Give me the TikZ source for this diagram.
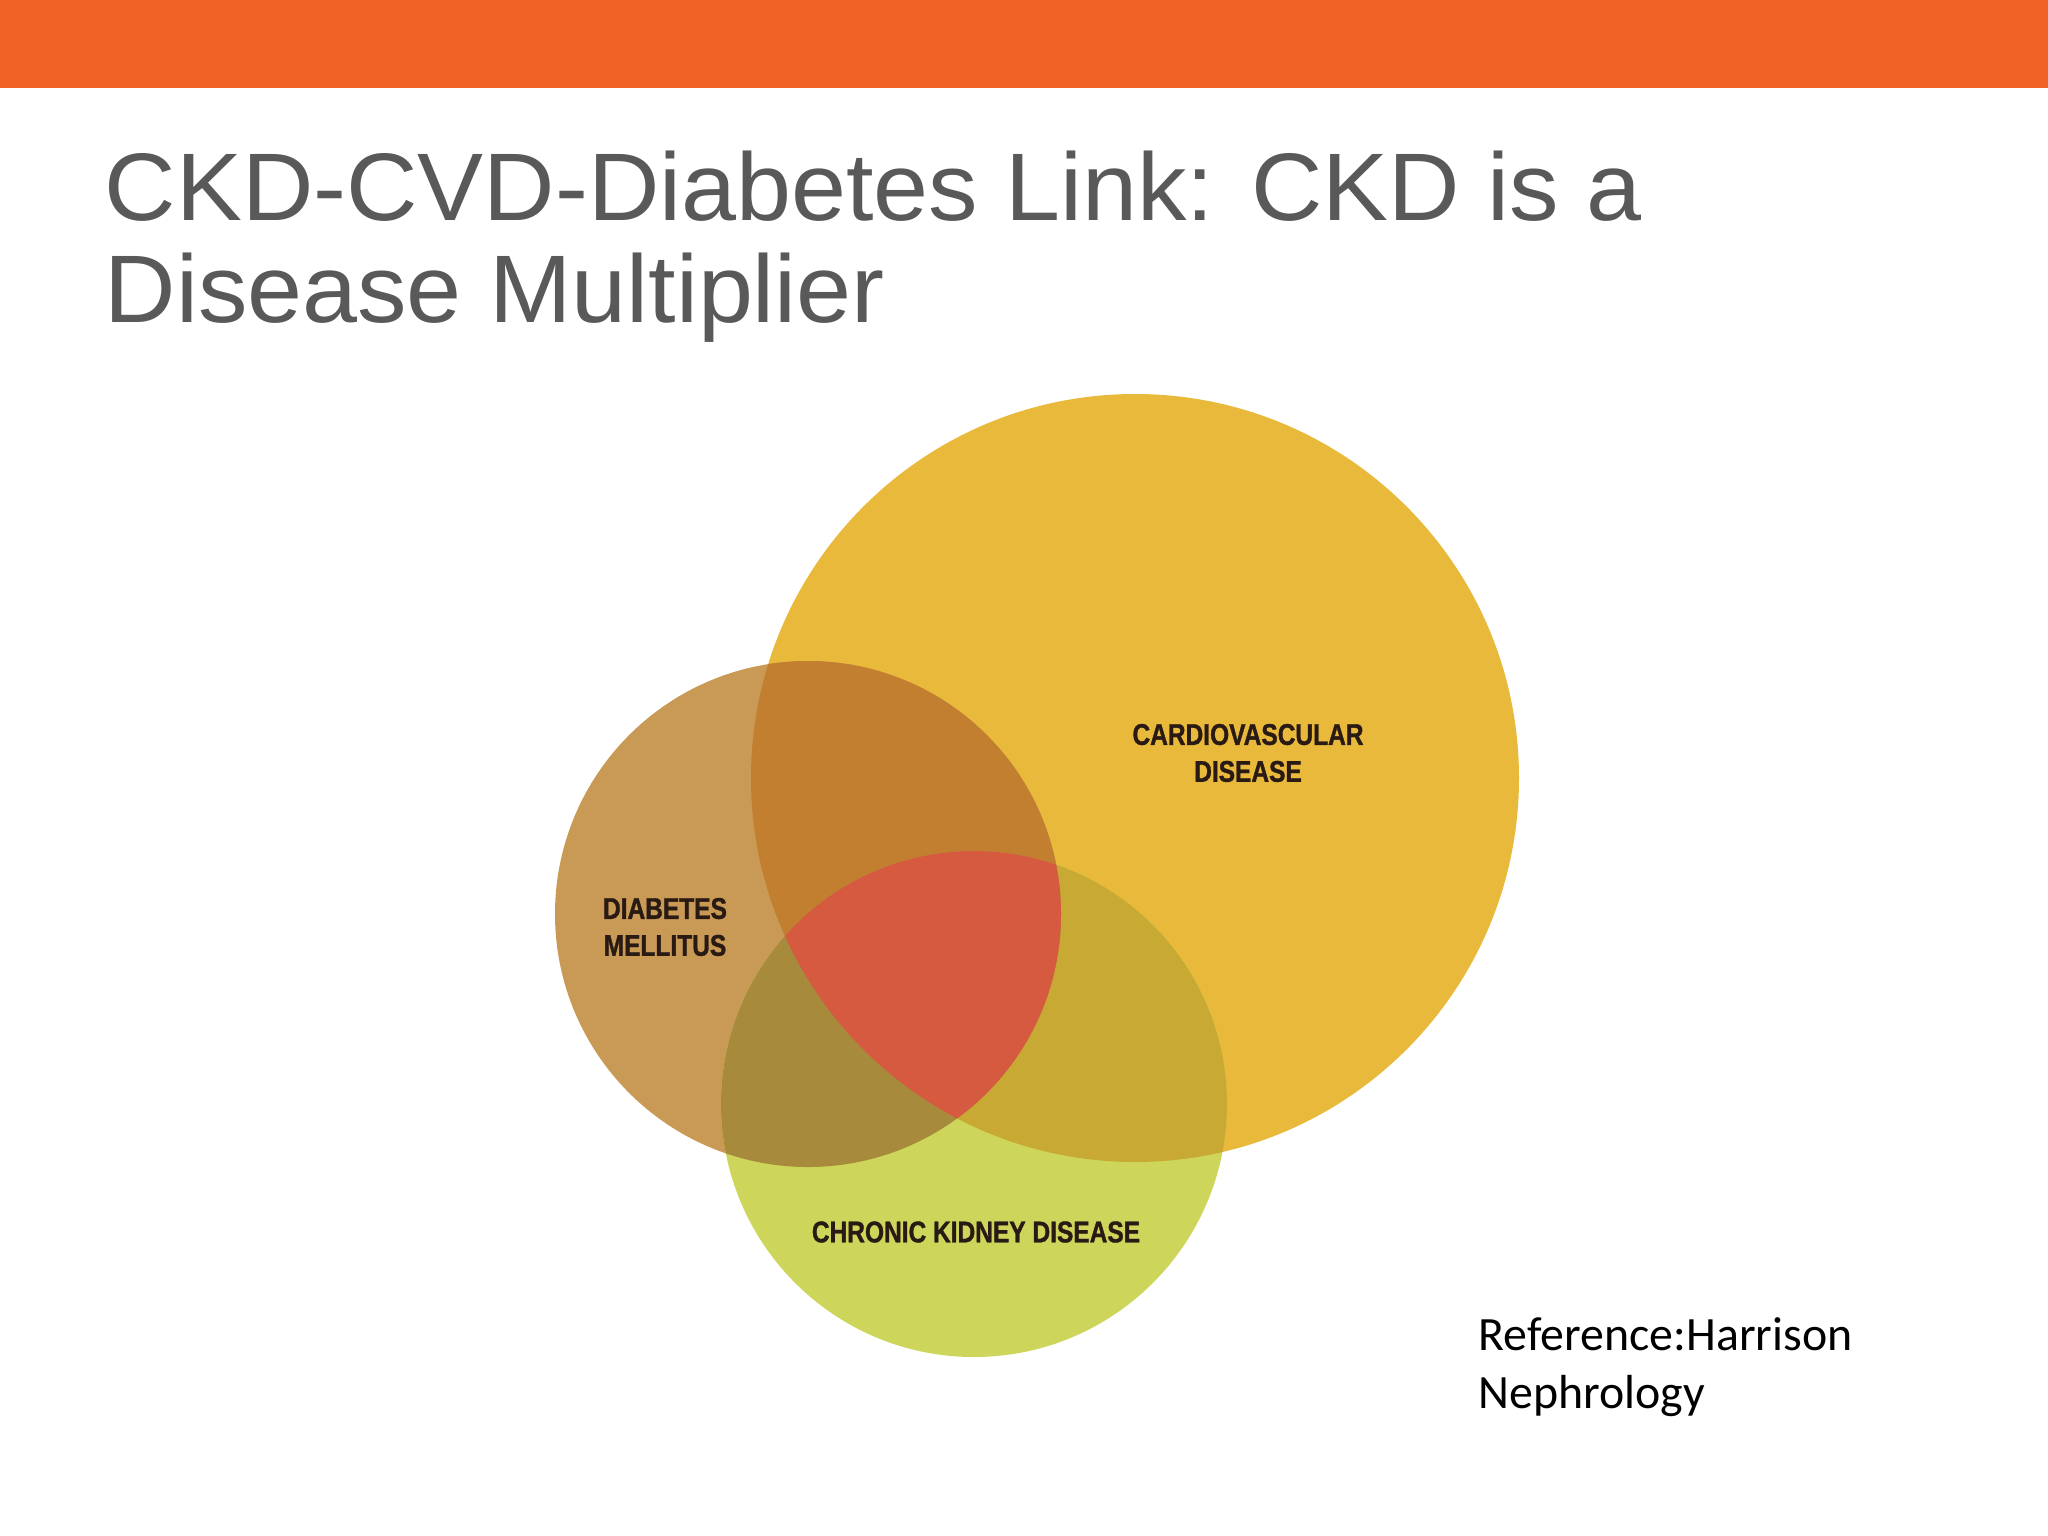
\documentclass[tikz,border=0pt]{standalone}
\usepackage{fontspec}
\setmainfont{Liberation Sans}
\newfontfamily\titlefont[FakeStretch=1.03]{Liberation Sans}
\newfontfamily\labfont[FakeStretch=0.82, BoldFeatures={FakeBold=1.2}]{Liberation Sans}
\newfontfamily\reffont{Carlito}
\definecolor{barorange}{HTML}{F06226}
\definecolor{titlegray}{HTML}{595959}
\definecolor{cvdcol}{HTML}{E8B93A}
\definecolor{dmcol}{HTML}{C99A55}
\definecolor{ckdcol}{HTML}{CDD65A}
\definecolor{dmcvd}{HTML}{C27F2F}
\definecolor{ckdcvd}{HTML}{C8A933}
\definecolor{dmckd}{HTML}{A78A3C}
\definecolor{triple}{HTML}{D65A40}
\definecolor{labtext}{HTML}{2A1A14}
\tikzset{
  titletext/.style={inner sep=0pt, anchor=base west, text=titlegray, font=\titlefont\fontsize{27.3}{29}\selectfont},
  reftext/.style={inner sep=0pt, anchor=base west, text=black, font=\reffont\fontsize{13.6}{16.2}\selectfont},
  vennlabel/.style={inner sep=0pt, align=center, text=labtext, font=\labfont\bfseries\fontsize{8.5}{10.5}\selectfont},
}
\begin{document}
\begin{tikzpicture}[x=0.01cm, y=-0.01cm]
\useasboundingbox (0,0) rectangle (2048,1536);
\fill[white] (0,0) rectangle (2048,1536);
\fill[barorange] (0,0) rectangle (2048,88);
% title
\node[titletext] (title1) at (104,220) {CKD-CVD-Diabetes Link: CKD is a};
\node[titletext] (title2) at (104,322) {Disease Multiplier};
% circles
\def\cvdpath{(1135,778) circle[radius=384]}
\def\dmpath{(808,914) circle[radius=253]}
\def\ckdpath{(974,1104) circle[radius=253]}
\fill[cvdcol] \cvdpath;
\fill[dmcol] \dmpath;
\fill[ckdcol] \ckdpath;
\begin{scope}
  \clip \dmpath;
  \fill[dmcvd] \cvdpath;
\end{scope}
\begin{scope}
  \clip \ckdpath;
  \fill[ckdcvd] \cvdpath;
\end{scope}
\begin{scope}
  \clip \dmpath;
  \fill[dmckd] \ckdpath;
\end{scope}
\begin{scope}
  \clip \dmpath;
  \clip \ckdpath;
  \fill[triple] \cvdpath;
\end{scope}
% labels
\node[vennlabel] (cvd) at (1248,753) {CARDIOVASCULAR\\DISEASE};
\node[vennlabel] (dm) at (665,927) {DIABETES\\MELLITUS};
\node[vennlabel] (ckd) at (976,1232) {CHRONIC KIDNEY DISEASE};
% reference
\node[reftext] (ref1) at (1478,1350) {Reference:Harrison};
\node[reftext] (ref2) at (1478,1408) {Nephrology};
\end{tikzpicture}
\end{document}
